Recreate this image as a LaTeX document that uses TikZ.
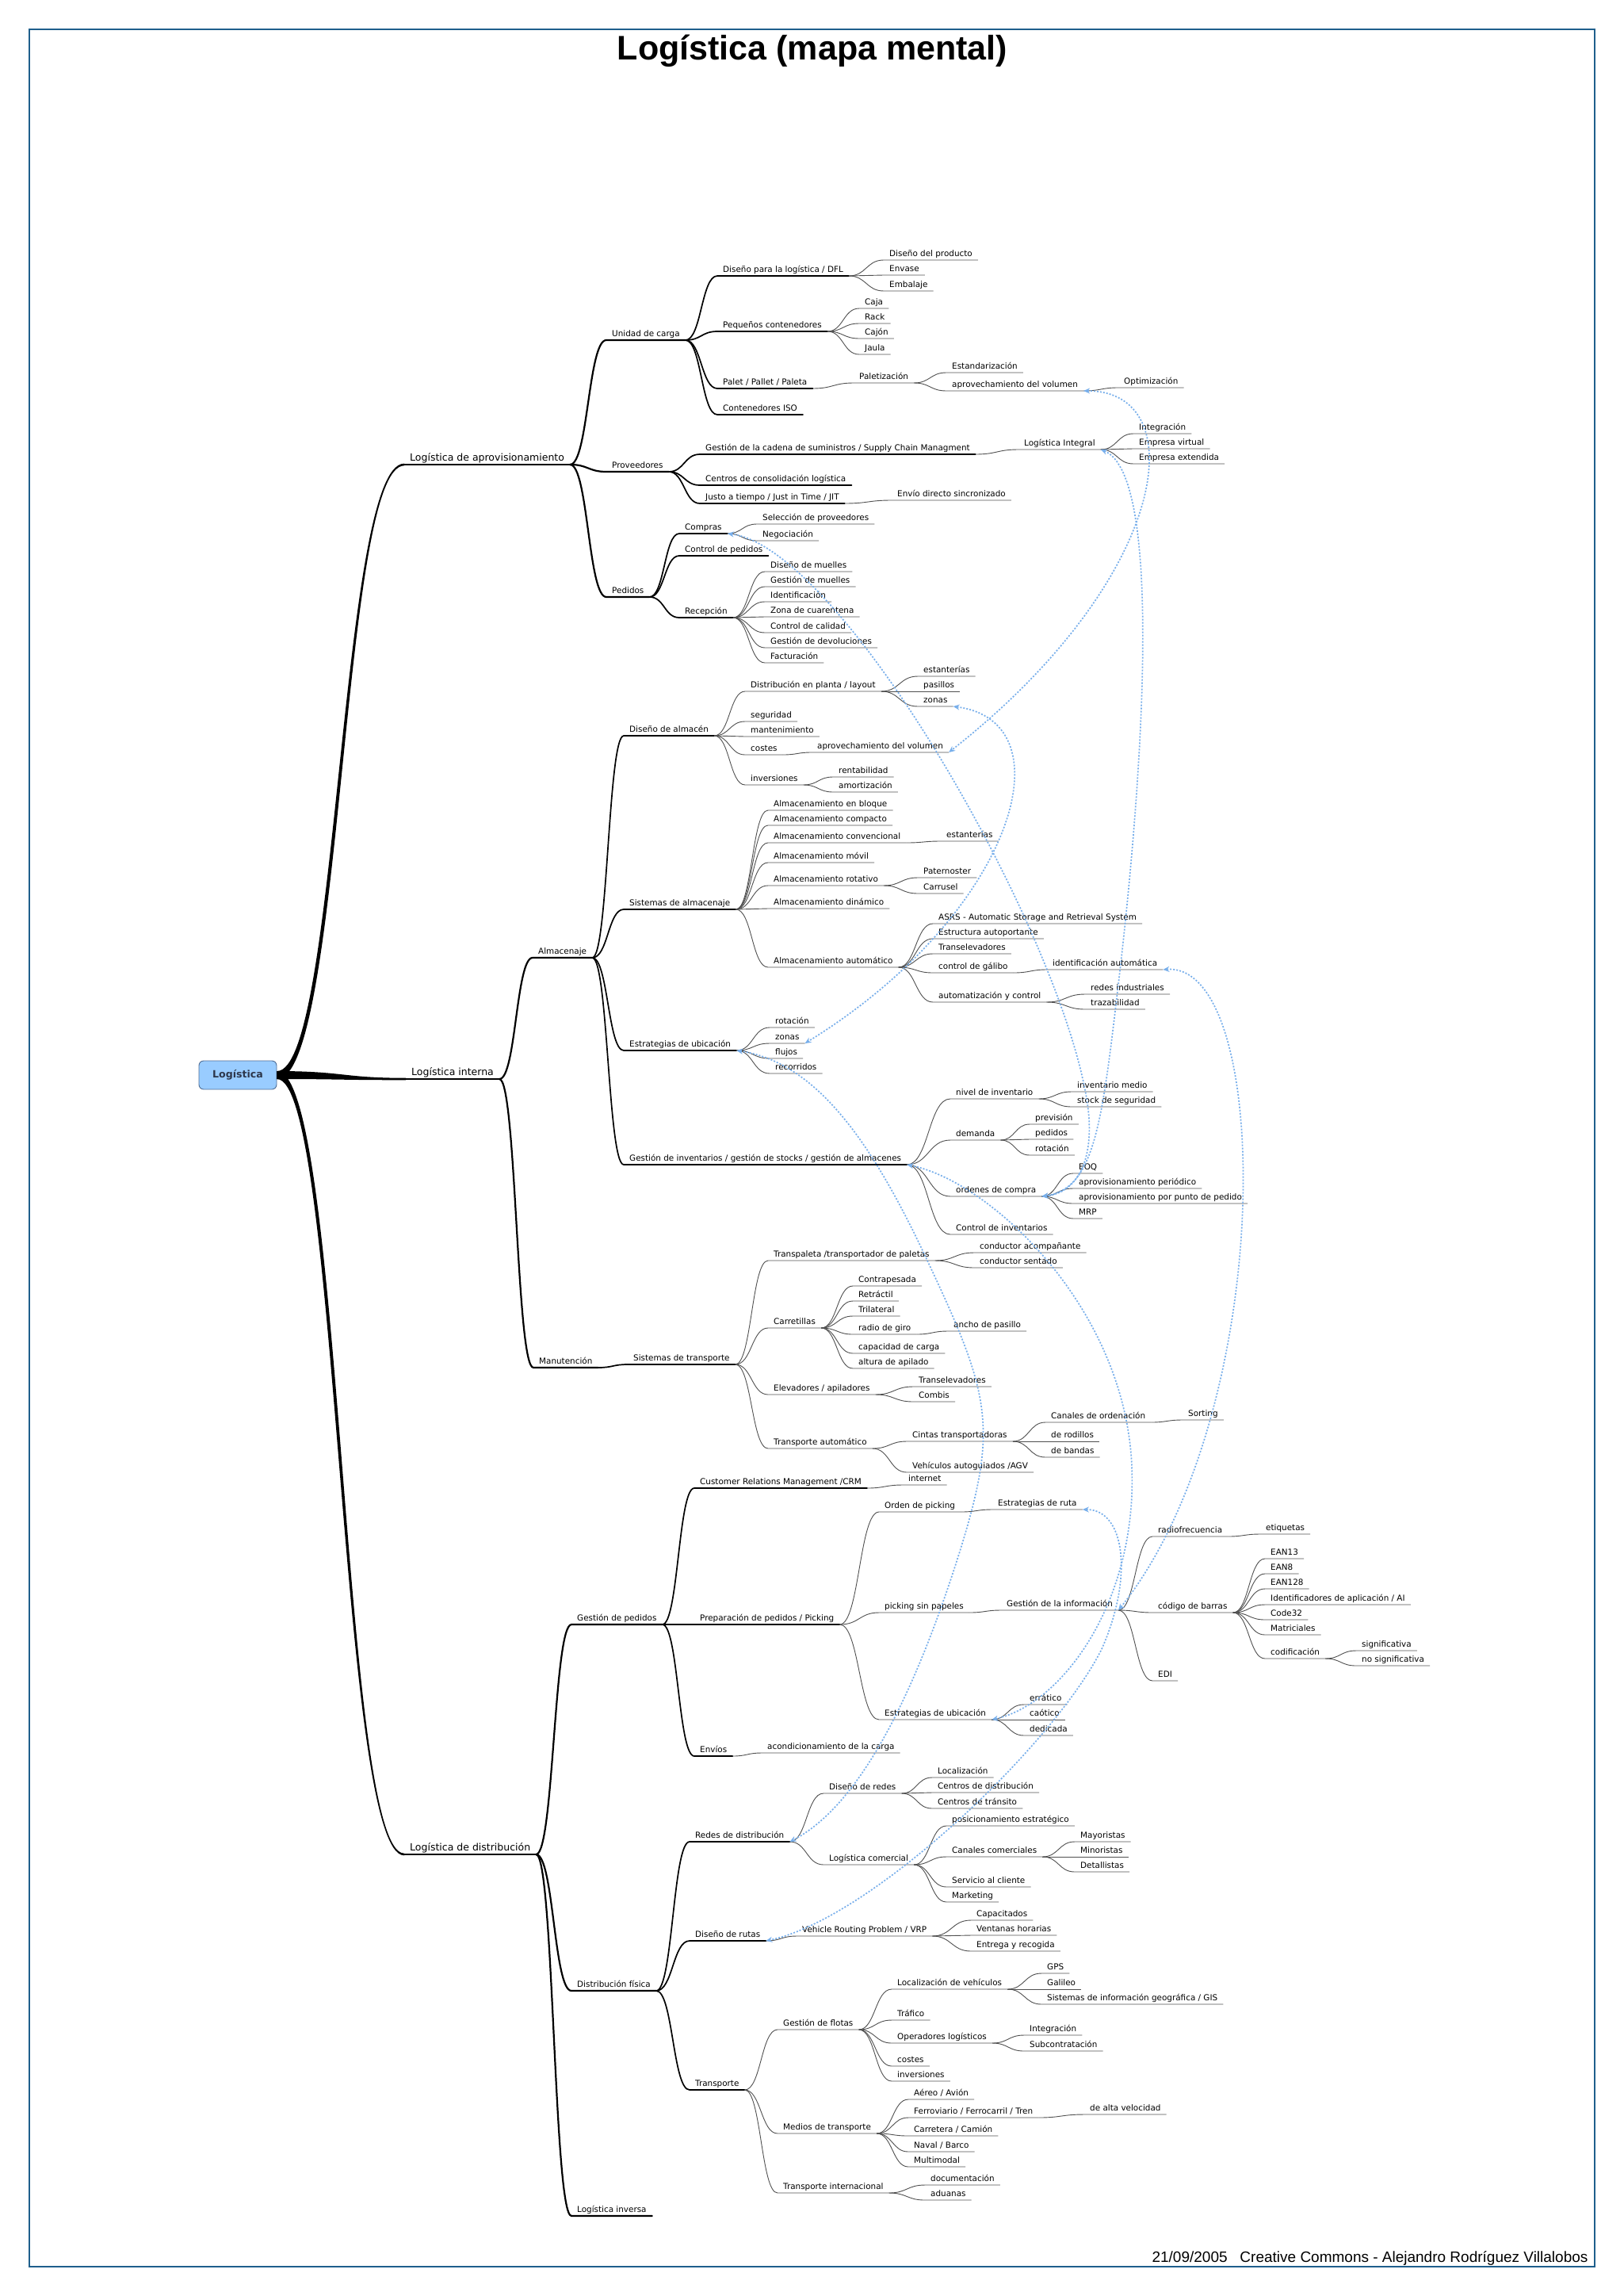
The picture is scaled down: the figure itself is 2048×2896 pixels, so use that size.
\documentclass[tikz,border=0pt]{standalone}
\usepackage{fontspec}
\usetikzlibrary{arrows.meta,calc,positioning}
\newfontfamily\mapfont{DejaVu Sans}
\newfontfamily\headfont{Liberation Sans}
\definecolor{mmblue}{RGB}{153,204,255}
\definecolor{mmedge}{RGB}{80,110,150}
\definecolor{mmtext}{RGB}{45,55,75}
\definecolor{mmlink}{RGB}{120,175,235}
\definecolor{mmframe}{RGB}{31,95,140}
\definecolor{mmgray}{RGB}{80,80,80}

% tapered main branch: #1 from, #2 to, #3 = +1 down / -1 up
\newcommand\trunk[3]{%
  \fill let \p1=(#1), \p2=(#2), \p3=($(\p1)!.5!(\p2)$) in
    (\x1,{\y1+5pt}) .. controls ({\x3+#3*3pt},{\y1+5pt}) and ({\x3+#3*1.2pt},{\y2+1.3pt}) .. (\x2,{\y2+1.3pt})
    -- (\x2,{\y2-1.3pt}) .. controls ({\x3-#3*1.2pt},{\y2-1.3pt}) and ({\x3-#3*3pt},{\y1-5pt}) .. (\x1,{\y1-5pt}) -- cycle;}

\tikzset{
  lbl/.style={anchor=south west,xshift=-7pt,inner xsep=7pt,inner ysep=0pt,
    text height=8pt,text depth=4pt,font=\mapfont\fontsize{10.4}{12}\selectfont},
  mainlbl/.style={lbl,text height=9.5pt,text depth=4.5pt,font=\mapfont\fontsize{12.5}{14}\selectfont},
  rootbox/.style={draw=mmedge,fill=mmblue,line width=0.9pt,rounded corners=6pt,
    minimum width=98pt,minimum height=36pt,inner sep=0pt,text=mmtext,
    font=\mapfont\bfseries\fontsize{12.6}{14}\selectfont},
  branch/.style={to path={let \p1=(\tikztostart),\p2=(\tikztotarget),\p3=($(\p1)!.5!(\p2)$) in
    .. controls (\x3,\y1) and (\x3,\y2) .. (\tikztotarget)}},
  ln2/.style={line width=2.2pt,line cap=round},
  ln3/.style={line width=1.7pt,line cap=round},
  ln4/.style={line width=0.9pt,mmgray},
  xlink/.style={mmlink,line width=1.7pt,dash pattern=on 2pt off 2pt,
    >={Stealth[length=8pt,width=7pt]},<->},
}

\begin{document}
\begin{tikzpicture}[x=1pt,y=-1pt]
  \useasboundingbox (0,0) rectangle (2048,2896);
  \fill[white] (0,0) rectangle (2048,2896);
  \draw[mmframe,line width=1.8pt] (37,37) rectangle (2012,2859);
  \node[anchor=base] (title) at (1025,75) {\headfont\fontsize{43}{50}\selectfont\bfseries Logística (mapa mental)};
  \node[anchor=base east] (foot) at (2007,2853) {\headfont\fontsize{19}{22}\selectfont 21/09/2005\ \ \ Creative Commons - Alejandro Rodríguez Villalobos};

  % centre and main topics
  \node[rootbox] (root) at (300,1356) {Logística};
  \node[mainlbl] (apro) at (517,586) {Logística de aprovisionamiento};
  \node[mainlbl] (inte) at (519,1361) {Logística interna};
  \node[mainlbl] (dist) at (517,2339) {Logística de distribución};

  % aprovisionamiento
  \node[lbl] (unid) at (772,429) {Unidad de carga};
  \node[lbl] (prov) at (772,595) {Proveedores};
  \node[lbl] (pedi) at (772,753) {Pedidos};
  \node[lbl] (dfl) at (912,348) {Diseño para la logística / DFL};
  \node[lbl] (dpro) at (1122,328) {Diseño del producto};
  \node[lbl] (env) at (1122,347) {Envase};
  \node[lbl] (emb) at (1122,367) {Embalaje};
  \node[lbl] (peq) at (912,418) {Pequeños contenedores};
  \node[lbl] (caja) at (1091,389) {Caja};
  \node[lbl] (rack) at (1091,408) {Rack};
  \node[lbl] (cajon) at (1091,427) {Cajón};
  \node[lbl] (jaula) at (1091,447) {Jaula};
  \node[lbl] (palet) at (912,490) {Palet / Pallet / Paleta};
  \node[lbl] (paz) at (1084,483) {Paletización};
  \node[lbl] (est) at (1201,470) {Estandarización};
  \node[lbl] (avo1) at (1201,493) {aprovechamiento del volumen};
  \node[lbl] (opt) at (1418,489) {Optimización};
  \node[lbl] (iso) at (912,523) {Contenedores ISO};
  \node[lbl] (scm) at (890,573) {Gestión de la cadena de suministros / Supply Chain Managment};
  \node[lbl] (lint) at (1292,567) {Logística Integral};
  \node[lbl] (integ) at (1437,547) {Integración};
  \node[lbl] (evir) at (1437,566) {Empresa virtual};
  \node[lbl] (eext) at (1437,585) {Empresa extendida};
  \node[lbl] (ccl) at (890,612) {Centros de consolidación logística};
  \node[lbl] (jit) at (890,635) {Justo a tiempo / Just in Time / JIT};
  \node[lbl] (envio) at (1132,631) {Envío directo sincronizado};
  \node[lbl] (comp) at (864,673) {Compras};
  \node[lbl] (selp) at (962,661) {Selección de proveedores};
  \node[lbl] (nego) at (962,682) {Negociación};
  \node[lbl] (cped) at (864,701) {Control de pedidos};
  \node[lbl] (recep) at (864,779) {Recepción};
  \node[lbl] (dmue) at (972,721) {Diseño de muelles};
  \node[lbl] (gmue) at (972,740) {Gestión de muelles};
  \node[lbl] (ident) at (972,759) {Identificación};
  \node[lbl] (zcua) at (972,778) {Zona de cuarentena};
  \node[lbl] (ccal) at (972,798) {Control de calidad};
  \node[lbl] (gdev) at (972,817) {Gestión de devoluciones};
  \node[lbl] (fact) at (972,836) {Facturación};

  % logistica interna
  \node[lbl] (alm) at (679,1208) {Almacenaje};
  \node[lbl] (manu) at (680,1725) {Manutención};
  \node[lbl] (dalm) at (794,928) {Diseño de almacén};
  \node[lbl] (dpl) at (947,872) {Distribución en planta / layout};
  \node[lbl] (estt1) at (1165,853) {estanterías};
  \node[lbl] (pas) at (1165,872) {pasillos};
  \node[lbl] (zon1) at (1165,891) {zonas};
  \node[lbl] (seg) at (947,910) {seguridad};
  \node[lbl] (mant) at (947,929) {mantenimiento};
  \node[lbl] (cos1) at (947,952) {costes};
  \node[lbl] (avo2) at (1031,949) {aprovechamiento del volumen};
  \node[lbl] (inv1) at (947,990) {inversiones};
  \node[lbl] (rent) at (1058,980) {rentabilidad};
  \node[lbl] (amor) at (1058,999) {amortización};
  \node[lbl] (salm) at (794,1147) {Sistemas de almacenaje};
  \node[lbl] (abl) at (976,1022) {Almacenamiento en bloque};
  \node[lbl] (aco) at (976,1041) {Almacenamiento compacto};
  \node[lbl] (acv) at (976,1063) {Almacenamiento convencional};
  \node[lbl] (estt2) at (1194,1061) {estanterías};
  \node[lbl] (amo) at (976,1088) {Almacenamiento móvil};
  \node[lbl] (aro) at (976,1117) {Almacenamiento rotativo};
  \node[lbl] (pat) at (1165,1107) {Paternoster};
  \node[lbl] (car) at (1165,1127) {Carrusel};
  \node[lbl] (adi) at (976,1146) {Almacenamiento dinámico};
  \node[lbl] (aau) at (976,1220) {Almacenamiento automático};
  \node[lbl] (asrs) at (1184,1165) {ASRS - Automatic Storage and Retrieval System};
  \node[lbl] (eaut) at (1184,1184) {Estructura autoportante};
  \node[lbl] (tra1) at (1184,1203) {Transelevadores};
  \node[lbl] (cgal) at (1184,1227) {control de gálibo};
  \node[lbl] (iaut) at (1328,1223) {identificación automática};
  \node[lbl] (ayc) at (1184,1264) {automatización y control};
  \node[lbl] (rind) at (1376,1254) {redes industriales};
  \node[lbl] (traz) at (1376,1273) {trazabilidad};
  \node[lbl] (eub1) at (794,1325) {Estrategias de ubicación};
  \node[lbl] (rot1) at (978,1296) {rotación};
  \node[lbl] (zon2) at (978,1316) {zonas};
  \node[lbl] (flu) at (978,1335) {flujos};
  \node[lbl] (rec) at (978,1354) {recorridos};
  \node[lbl] (ginv) at (794,1469) {Gestión de inventarios / gestión de stocks / gestión de almacenes};
  \node[lbl] (niv) at (1206,1386) {nivel de inventario};
  \node[lbl] (imed) at (1359,1377) {inventario medio};
  \node[lbl] (sseg) at (1359,1396) {stock de seguridad};
  \node[lbl] (dem) at (1206,1438) {demanda};
  \node[lbl] (prev) at (1306,1418) {previsión};
  \node[lbl] (pedd) at (1306,1437) {pedidos};
  \node[lbl] (rot2) at (1306,1457) {rotación};
  \node[lbl] (ocom) at (1206,1509) {ordenes de compra};
  \node[lbl] (eoq) at (1361,1480) {EOQ};
  \node[lbl] (aper) at (1361,1499) {aprovisionamiento periódico};
  \node[lbl] (appp) at (1361,1518) {aprovisionamiento por punto de pedido};
  \node[lbl] (mrp) at (1361,1537) {MRP};
  \node[lbl] (cinv) at (1206,1557) {Control de inventarios};
  \node[lbl] (stra) at (799,1721) {Sistemas de transporte};
  \node[lbl] (tpal) at (976,1590) {Transpaleta /transportador de paletas};
  \node[lbl] (cacm) at (1236,1580) {conductor acompañante};
  \node[lbl] (csen) at (1236,1599) {conductor sentado};
  \node[lbl] (carr) at (976,1675) {Carretillas};
  \node[lbl] (cpes) at (1083,1622) {Contrapesada};
  \node[lbl] (retr) at (1083,1641) {Retráctil};
  \node[lbl] (tril) at (1083,1660) {Trilateral};
  \node[lbl] (rgir) at (1083,1683) {radio de giro};
  \node[lbl] (apas) at (1203,1679) {ancho de pasillo};
  \node[lbl] (ccar) at (1083,1707) {capacidad de carga};
  \node[lbl] (aapi) at (1083,1726) {altura de apilado};
  \node[lbl] (elev) at (976,1759) {Elevadores / apiladores};
  \node[lbl] (tra2) at (1159,1749) {Transelevadores};
  \node[lbl] (comb) at (1159,1768) {Combis};
  \node[lbl] (taut) at (976,1827) {Transporte automático};
  \node[lbl] (cint) at (1151,1818) {Cintas transportadoras};
  \node[lbl] (cord) at (1326,1794) {Canales de ordenación};
  \node[lbl] (sort) at (1499,1791) {Sorting};
  \node[lbl] (rodi) at (1326,1818) {de rodillos};
  \node[lbl] (band) at (1326,1838) {de bandas};
  \node[lbl] (agv) at (1151,1857) {Vehículos autoguiados /AGV};

  % distribucion
  \node[lbl] (gped) at (728,2049) {Gestión de pedidos};
  \node[lbl] (dfis) at (728,2511) {Distribución física};
  \node[lbl] (linv) at (728,2795) {Logística inversa};
  \node[lbl] (crm) at (883,1877) {Customer Relations Management /CRM};
  \node[lbl] (inet) at (1146,1873) {internet};
  \node[lbl] (prep) at (883,2049) {Preparación de pedidos / Picking};
  \node[lbl] (opk) at (1116,1907) {Orden de picking};
  \node[lbl] (eru) at (1259,1904) {Estrategias de ruta};
  \node[lbl] (psp) at (1116,2034) {picking sin papeles};
  \node[lbl] (ginf) at (1270,2031) {Gestión de la información};
  \node[lbl] (rfq) at (1461,1938) {radiofrecuencia};
  \node[lbl] (etiq) at (1597,1935) {etiquetas};
  \node[lbl] (cbar) at (1461,2034) {código de barras};
  \node[lbl] (e13) at (1603,1966) {EAN13};
  \node[lbl] (e8) at (1603,1985) {EAN8};
  \node[lbl] (e128) at (1603,2004) {EAN128};
  \node[lbl] (iai) at (1603,2024) {Identificadores de aplicación / AI};
  \node[lbl] (c32) at (1603,2043) {Code32};
  \node[lbl] (mat) at (1603,2062) {Matriciales};
  \node[lbl] (cod) at (1603,2092) {codificación};
  \node[lbl] (sig) at (1718,2082) {significativa};
  \node[lbl] (nsig) at (1718,2101) {no significativa};
  \node[lbl] (edi) at (1461,2120) {EDI};
  \node[lbl] (eub2) at (1116,2169) {Estrategias de ubicación};
  \node[lbl] (err) at (1299,2150) {errático};
  \node[lbl] (cao) at (1299,2169) {caótico};
  \node[lbl] (ded) at (1299,2189) {dedicada};
  \node[lbl] (envs) at (883,2215) {Envíos};
  \node[lbl] (acon) at (968,2211) {acondicionamiento de la carga};
  \node[lbl] (rdis) at (877,2323) {Redes de distribución};
  \node[lbl] (dred) at (1046,2262) {Diseño de redes};
  \node[lbl] (loc) at (1183,2242) {Localización};
  \node[lbl] (cdis) at (1183,2261) {Centros de distribución};
  \node[lbl] (ctra) at (1183,2281) {Centros de tránsito};
  \node[lbl] (lcom) at (1046,2352) {Logística comercial};
  \node[lbl] (pest) at (1201,2303) {posicionamiento estratégico};
  \node[lbl] (ccom) at (1201,2342) {Canales comerciales};
  \node[lbl] (may) at (1363,2323) {Mayoristas};
  \node[lbl] (mino) at (1363,2342) {Minoristas};
  \node[lbl] (det) at (1363,2361) {Detallistas};
  \node[lbl] (scli) at (1201,2380) {Servicio al cliente};
  \node[lbl] (mkt) at (1201,2399) {Marketing};
  \node[lbl] (drut) at (877,2448) {Diseño de rutas};
  \node[lbl] (vrp) at (1012,2442) {Vehicle Routing Problem / VRP};
  \node[lbl] (capa) at (1232,2422) {Capacitados};
  \node[lbl] (vhor) at (1232,2441) {Ventanas horarias};
  \node[lbl] (ereco) at (1232,2461) {Entrega y recogida};
  \node[lbl] (tran) at (877,2636) {Transporte};
  \node[lbl] (gflo) at (988,2560) {Gestión de flotas};
  \node[lbl] (lveh) at (1132,2509) {Localización de vehículos};
  \node[lbl] (gps) at (1321,2489) {GPS};
  \node[lbl] (gal) at (1321,2509) {Galileo};
  \node[lbl] (gis) at (1321,2528) {Sistemas de información geográfica / GIS};
  \node[lbl] (traf) at (1132,2548) {Tráfico};
  \node[lbl] (oplo) at (1132,2577) {Operadores logísticos};
  \node[lbl] (int2) at (1299,2567) {Integración};
  \node[lbl] (subc) at (1299,2587) {Subcontratación};
  \node[lbl] (cos2) at (1132,2606) {costes};
  \node[lbl] (inv2) at (1132,2625) {inversiones};
  \node[lbl] (medt) at (988,2691) {Medios de transporte};
  \node[lbl] (aer) at (1153,2648) {Aéreo / Avión};
  \node[lbl] (ferr) at (1153,2671) {Ferroviario / Ferrocarril / Tren};
  \node[lbl] (alta) at (1375,2667) {de alta velocidad};
  \node[lbl] (carre) at (1153,2694) {Carretera / Camión};
  \node[lbl] (nav) at (1153,2714) {Naval / Barco};
  \node[lbl] (mult) at (1153,2733) {Multimodal};
  \node[lbl] (tint) at (988,2766) {Transporte internacional};
  \node[lbl] (doc) at (1174,2756) {documentación};
  \node[lbl] (adu) at (1174,2775) {aduanas};

  % trunks from the centre
  \trunk{root.east}{apro.south west}{-1}
  \trunk{root.east}{inte.south west}{1}
  \trunk{root.east}{dist.south west}{1}
  \foreach \m in {apro,inte,dist}
    \draw[line width=2.6pt] (\m.south west) -- (\m.south east);

  % branches
  \foreach \pa/\ch in {apro/unid,apro/prov,apro/pedi,inte/alm,inte/manu,dist/gped,dist/dfis,dist/linv}
    \draw[ln2] (\pa.south east) to[branch] (\ch.south west) -- (\ch.south east);
  \foreach \pa/\ch in {unid/dfl,unid/peq,unid/palet,unid/iso,prov/scm,prov/ccl,prov/jit,
      pedi/comp,pedi/cped,pedi/recep,alm/dalm,alm/salm,alm/eub1,alm/ginv,manu/stra,
      gped/crm,gped/prep,gped/envs,dfis/rdis,dfis/drut,dfis/tran}
    \draw[ln3] (\pa.south east) to[branch] (\ch.south west) -- (\ch.south east);
  \foreach \pa/\ch in {dfl/dpro,dfl/env,dfl/emb,peq/caja,peq/rack,peq/cajon,peq/jaula,
      palet/paz,paz/est,paz/avo1,avo1/opt,scm/lint,lint/integ,lint/evir,lint/eext,jit/envio,
      comp/selp,comp/nego,recep/dmue,recep/gmue,recep/ident,recep/zcua,recep/ccal,recep/gdev,recep/fact,
      dalm/dpl,dpl/estt1,dpl/pas,dpl/zon1,dalm/seg,dalm/mant,dalm/cos1,cos1/avo2,dalm/inv1,inv1/rent,inv1/amor,
      salm/abl,salm/aco,salm/acv,acv/estt2,salm/amo,salm/aro,aro/pat,aro/car,salm/adi,salm/aau,
      aau/asrs,aau/eaut,aau/tra1,aau/cgal,cgal/iaut,aau/ayc,ayc/rind,ayc/traz,
      eub1/rot1,eub1/zon2,eub1/flu,eub1/rec,
      ginv/niv,niv/imed,niv/sseg,ginv/dem,dem/prev,dem/pedd,dem/rot2,ginv/ocom,ocom/eoq,ocom/aper,
      ocom/appp,ocom/mrp,ginv/cinv,
      stra/tpal,tpal/cacm,tpal/csen,stra/carr,carr/cpes,carr/retr,carr/tril,carr/rgir,rgir/apas,
      carr/ccar,carr/aapi,stra/elev,elev/tra2,elev/comb,stra/taut,taut/cint,cint/cord,cord/sort,
      cint/rodi,cint/band,taut/agv,
      crm/inet,prep/opk,opk/eru,prep/psp,psp/ginf,ginf/rfq,rfq/etiq,ginf/cbar,cbar/e13,cbar/e8,
      cbar/e128,cbar/iai,cbar/c32,cbar/mat,cbar/cod,cod/sig,cod/nsig,ginf/edi,prep/eub2,
      eub2/err,eub2/cao,eub2/ded,envs/acon,
      rdis/dred,dred/loc,dred/cdis,dred/ctra,rdis/lcom,lcom/pest,lcom/ccom,ccom/may,ccom/mino,
      ccom/det,lcom/scli,lcom/mkt,drut/vrp,vrp/capa,vrp/vhor,vrp/ereco,
      tran/gflo,gflo/lveh,lveh/gps,lveh/gal,lveh/gis,gflo/traf,gflo/oplo,oplo/int2,oplo/subc,
      gflo/cos2,gflo/inv2,tran/medt,medt/aer,medt/ferr,ferr/alta,medt/carre,medt/nav,medt/mult,
      tran/tint,tint/doc,tint/adu}
    \draw[ln4] (\pa.south east) to[branch] (\ch.south west) -- (\ch.south east);

  % cross links
  \draw[xlink] (avo1.south east) .. controls +(140,0) and +(280,-220) .. (avo2.south east);
  \draw[xlink] (lint.south east) .. controls (1470,600) and (1440,1000) .. (1410,1250)
    .. controls (1390,1420) and (1380,1500) .. (ocom.south east);
  \draw[xlink] (comp.south east) .. controls (1060,690) and (1330,1160) .. (1370,1380)
    .. controls (1385,1460) and (1360,1505) .. (ocom.south east);
  \draw[xlink] (zon1.south east) .. controls +(150,20) and +(260,-160) .. (zon2.south east);
  \draw[xlink] (eub1.south east) .. controls (1030,1340) and (1100,1440) .. (1170,1590)
    .. controls (1250,1760) and (1260,1800) .. (1210,1960)
    .. controls (1150,2150) and (1080,2280) .. (rdis.south east);
  \draw[xlink] (ginv.south east) .. controls (1250,1490) and (1420,1650) .. (1428,1850)
    .. controls (1435,2020) and (1340,2150) .. (eub2.south east);
  \draw[xlink] (iaut.south east) .. controls +(140,-10) and +(200,-250) .. (ginf.south east);
  \draw[xlink] (eru.south east) .. controls (1420,1904) and (1430,1990) .. (1390,2080)
    .. controls (1330,2200) and (1100,2420) .. (drut.south east);
\end{tikzpicture}
\end{document}
